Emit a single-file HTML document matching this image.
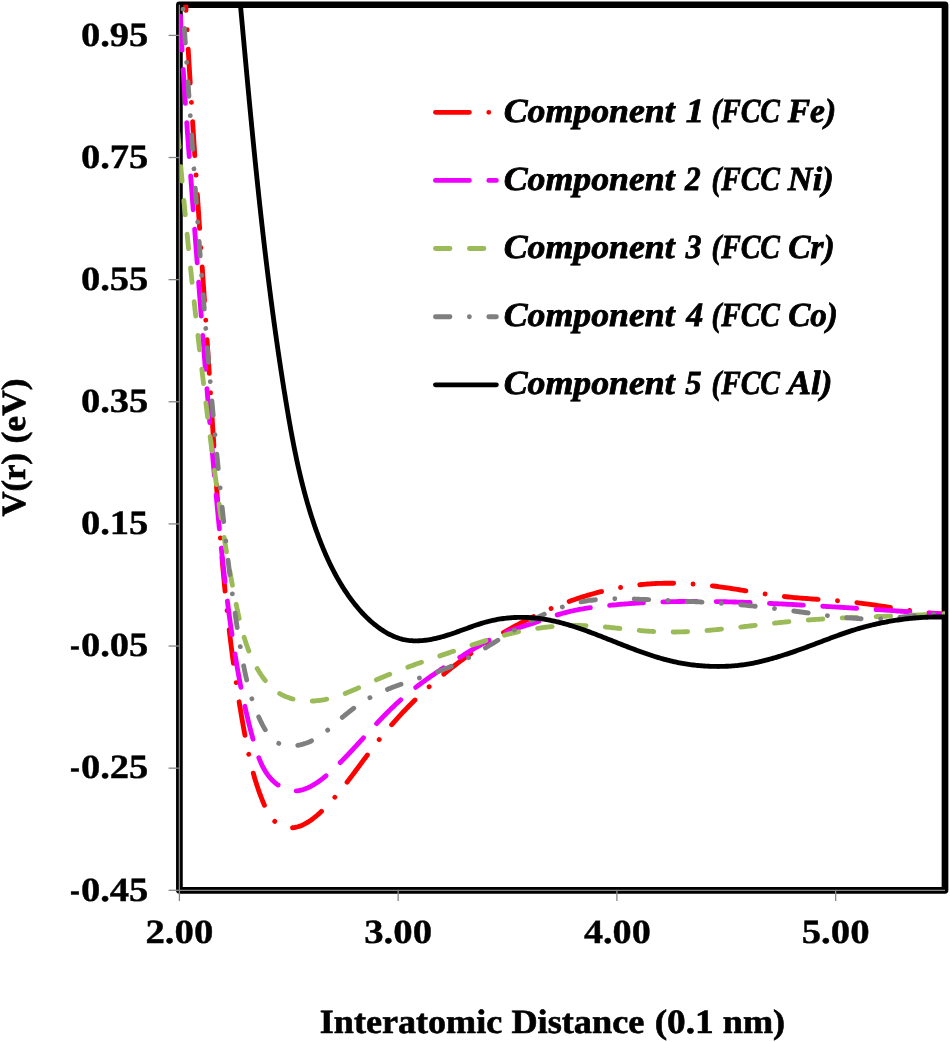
<!DOCTYPE html>
<html lang="en"><head><meta charset="utf-8"><title>V(r) vs Interatomic Distance</title>
<style>html,body{margin:0;padding:0;background:#fff}svg{display:block}</style></head>
<body>
<svg width="950" height="1042" viewBox="0 0 950 1042">
<rect x="0" y="0" width="950" height="1042" fill="#ffffff"/>
<defs><clipPath id="plot"><rect x="179.4" y="4.75" width="765.6" height="885.55"/></clipPath></defs>
<rect x="179.4" y="4.75" width="765.6" height="885.55" fill="none" stroke="#000" stroke-width="6.7" stroke-linejoin="round"/>
<g clip-path="url(#plot)" fill="none" stroke-linecap="round" stroke-linejoin="round">
<path d="M185.43,-0.01 L185.53,1.98 L185.64,3.97 L185.75,5.96 L185.86,7.96 L185.97,9.95 L186.08,11.94 L186.19,13.93 L186.30,15.92 L186.41,17.91 L186.52,19.90 L186.63,21.89 L186.74,23.88 L186.86,25.87 L186.97,27.86 L187.08,29.85 L187.19,31.84 L187.31,33.83 L187.42,35.82 L187.54,37.82 L187.65,39.81 L187.76,41.80 L187.88,43.79 L188.00,45.78 L188.11,47.77 L188.23,49.76 L188.34,51.75 L188.46,53.74 L188.58,55.73 L188.70,57.72 L188.81,59.71 L188.93,61.70 L189.05,63.69 L189.17,65.68 L189.29,67.67 L189.41,69.66 L189.53,71.65 L189.65,73.64 L189.77,75.63 L189.89,77.62 L190.01,79.61 L190.13,81.60 L190.25,83.59 L190.37,85.58 L190.49,87.57 L190.61,89.56 L190.74,91.55 L190.86,93.54 L190.98,95.53 L191.11,97.52 L191.23,99.51 L191.35,101.50 L191.48,103.49 L191.60,105.48 L191.72,107.47 L191.85,109.46 L191.97,111.45 L192.10,113.44 L192.22,115.43 L192.35,117.42 L192.47,119.41 L192.60,121.40 L192.73,123.39 L192.85,125.38 L192.98,127.37 L193.11,129.36 L193.23,131.35 L193.36,133.34 L193.49,135.33 L193.62,137.32 L193.74,139.30 L193.87,141.29 L194.00,143.28 L194.13,145.27 L194.26,147.26 L194.38,149.25 L194.51,151.24 L194.64,153.23 L194.77,155.22 L194.90,157.21 L195.03,159.20 L195.16,161.19 L195.29,163.18 L195.42,165.17 L195.55,167.16 L195.68,169.15 L195.81,171.14 L195.94,173.13 L196.07,175.12 L196.20,177.10 L196.33,179.09 L196.46,181.08 L196.59,183.07 L196.72,185.06 L196.86,187.05 L196.99,189.04 L197.12,191.03 L197.25,193.02 L197.38,195.01 L197.51,197.00 L197.65,198.99 L197.78,200.98 L197.91,202.97 L198.04,204.96 L198.18,206.94 L198.31,208.93 L198.44,210.92 L198.57,212.91 L198.71,214.90 L198.84,216.89 L198.97,218.88 L199.10,220.87 L199.24,222.86 L199.37,224.85 L199.50,226.84 L199.64,228.83 L199.77,230.82 L199.90,232.80 L200.04,234.79 L200.17,236.78 L200.30,238.77 L200.44,240.76 L200.57,242.75 L200.70,244.74 L200.84,246.73 L200.97,248.72 L201.10,250.71 L201.24,252.70 L201.37,254.69 L201.50,256.68 L201.64,258.66 L201.77,260.65 L201.91,262.64 L202.04,264.63 L202.17,266.62 L202.31,268.61 L202.44,270.60 L202.57,272.59 L202.71,274.58 L202.84,276.57 L202.97,278.56 L203.11,280.55 L203.24,282.54 L203.38,284.53 L203.51,286.51 L203.64,288.50 L203.78,290.49 L203.91,292.48 L204.04,294.47 L204.18,296.46 L204.31,298.45 L204.44,300.44 L204.58,302.43 L204.71,304.42 L204.84,306.41 L204.97,308.40 L205.11,310.39 L205.24,312.38 L205.37,314.36 L205.51,316.35 L205.64,318.34 L205.77,320.33 L205.90,322.32 L206.04,324.31 L206.17,326.30 L206.30,328.29 L206.43,330.28 L206.56,332.27 L206.70,334.26 L206.83,336.25 L206.96,338.24 L207.09,340.23 L207.22,342.22 L207.35,344.21 L207.49,346.19 L207.62,348.18 L207.75,350.17 L207.88,352.16 L208.01,354.15 L208.14,356.14 L208.27,358.13 L208.40,360.12 L208.53,362.11 L208.66,364.10 L208.79,366.09 L208.92,368.08 L209.05,370.07 L209.18,372.06 L209.31,374.05 L209.44,376.04 L209.57,378.03 L209.70,380.02 L209.83,382.01 L209.95,384.00 L210.08,385.99 L210.21,387.98 L210.34,389.97 L210.47,391.96 L210.59,393.95 L210.72,395.94 L210.85,397.93 L210.97,399.91 L211.10,401.90 L211.23,403.89 L211.35,405.88 L211.48,407.87 L211.61,409.86 L211.73,411.85 L211.86,413.84 L211.98,415.83 L212.11,417.82 L212.24,419.81 L212.36,421.80 L212.49,423.79 L212.61,425.78 L212.74,427.77 L212.87,429.76 L212.99,431.75 L213.12,433.74 L213.24,435.73 L213.37,437.72 L213.50,439.71 L213.62,441.70 L213.75,443.69 L213.88,445.68 L214.00,447.67 L214.13,449.66 L214.26,451.65 L214.39,453.64 L214.52,455.63 L214.65,457.62 L214.77,459.61 L214.90,461.60 L215.03,463.59 L215.16,465.58 L215.30,467.57 L215.43,469.56 L215.56,471.55 L215.69,473.54 L215.82,475.53 L215.96,477.51 L216.09,479.50 L216.22,481.49 L216.36,483.48 L216.49,485.47 L216.63,487.46 L216.77,489.45 L216.90,491.44 L217.04,493.43 L217.18,495.42 L217.32,497.41 L217.46,499.39 L217.60,501.38 L217.74,503.37 L217.89,505.36 L218.03,507.35 L218.17,509.34 L218.32,511.32 L218.46,513.31 L218.61,515.30 L218.76,517.29 L218.91,519.28 L219.06,521.27 L219.21,523.25 L219.36,525.24 L219.51,527.23 L219.66,529.22 L219.82,531.20 L219.97,533.19 L220.13,535.18 L220.29,537.17 L220.45,539.15 L220.61,541.14 L220.77,543.13 L220.93,545.11 L221.09,547.10 L221.26,549.09 L221.43,551.07 L221.59,553.06 L221.76,555.05 L221.93,557.03 L222.10,559.02 L222.27,561.00 L222.45,562.99 L222.62,564.98 L222.80,566.96 L222.98,568.95 L223.16,570.93 L223.34,572.92 L223.52,574.90 L223.70,576.89 L223.89,578.87 L224.07,580.86 L224.26,582.84 L224.45,584.83 L224.64,586.81 L224.84,588.80 L225.03,590.78 L225.23,592.77 L225.42,594.75 L225.62,596.73 L225.82,598.72 L226.03,600.70 L226.23,602.68 L226.44,604.67 L226.65,606.65 L226.86,608.63 L227.07,610.62 L227.28,612.60 L227.50,614.58 L227.71,616.56 L227.93,618.55 L228.15,620.53 L228.38,622.51 L228.60,624.49 L228.83,626.47 L229.06,628.45 L229.29,630.44 L229.52,632.42 L229.75,634.40 L229.99,636.38 L230.23,638.36 L230.47,640.34 L230.71,642.32 L230.96,644.30 L231.21,646.28 L231.45,648.26 L231.71,650.24 L231.96,652.22 L232.22,654.19 L232.47,656.17 L232.74,658.15 L233.00,660.13 L233.26,662.10 L233.53,664.08 L233.80,666.06 L234.07,668.03 L234.35,670.01 L234.62,671.98 L234.90,673.96 L235.18,675.93 L235.47,677.91 L235.76,679.88 L236.05,681.85 L236.34,683.83 L236.63,685.80 L236.93,687.77 L237.23,689.74 L237.53,691.71 L237.83,693.68 L238.14,695.65 L238.45,697.62 L238.76,699.59 L239.08,701.55 L239.40,703.52 L239.72,705.49 L240.04,707.45 L240.37,709.42 L240.70,711.38 L241.03,713.34 L241.36,715.31 L241.70,717.27 L242.04,719.23 L242.39,721.19 L242.73,723.15 L243.08,725.11 L243.43,727.07 L243.79,729.03 L244.15,730.98 L244.51,732.94 L244.87,734.89 L245.24,736.85 L245.61,738.80 L245.98,740.76 L246.36,742.71 L246.75,744.66 L247.14,746.61 L247.53,748.56 L247.93,750.50 L248.34,752.45 L248.76,754.39 L249.18,756.33 L249.61,758.27 L250.06,760.21 L250.51,762.15 L250.97,764.08 L251.44,766.02 L251.92,767.95 L252.42,769.87 L252.93,771.80 L253.45,773.72 L253.98,775.64 L254.53,777.56 L255.09,779.48 L255.67,781.39 L256.27,783.30 L256.87,785.21 L257.50,787.11 L258.14,789.01 L258.80,790.91 L259.48,792.81 L260.18,794.70 L260.90,796.58 L261.64,798.47 L262.39,800.35 L263.17,802.23 L263.97,804.10 L264.79,805.97 L265.64,807.83 L266.52,809.67 L267.45,811.48 L268.43,813.25 L269.47,814.97 L270.59,816.63 L271.78,818.22 L273.07,819.72 L274.45,821.13 L275.94,822.43 L277.52,823.62 L279.19,824.69 L280.94,825.61 L282.74,826.40 L284.59,827.02 L286.47,827.48 L288.37,827.76 L290.28,827.87 L292.20,827.81 L294.10,827.60 L295.99,827.25 L297.87,826.76 L299.74,826.16 L301.59,825.44 L303.42,824.61 L305.23,823.69 L307.02,822.68 L308.78,821.59 L310.52,820.43 L312.23,819.20 L313.92,817.93 L315.57,816.60 L317.19,815.25 L318.77,813.86 L320.32,812.46 L321.83,811.05 L323.30,809.64 L324.74,808.22 L326.14,806.80 L327.51,805.38 L328.85,803.95 L330.17,802.52 L331.48,801.08 L332.76,799.63 L334.04,798.17 L335.30,796.70 L336.56,795.21 L337.81,793.72 L339.05,792.22 L340.29,790.70 L341.52,789.18 L342.75,787.64 L343.97,786.10 L345.19,784.55 L346.40,782.99 L347.61,781.43 L348.81,779.86 L350.02,778.28 L351.22,776.69 L352.42,775.11 L353.61,773.51 L354.81,771.92 L356.00,770.32 L357.19,768.71 L358.39,767.11 L359.58,765.50 L360.77,763.89 L361.97,762.28 L363.16,760.67 L364.36,759.06 L365.56,757.44 L366.76,755.83 L367.96,754.23 L369.17,752.62 L370.38,751.02 L371.60,749.41 L372.81,747.82 L374.04,746.22 L375.27,744.63 L376.50,743.05 L377.74,741.47 L378.99,739.90 L380.24,738.33 L381.50,736.77 L382.77,735.22 L384.04,733.67 L385.32,732.13 L386.61,730.60 L387.90,729.07 L389.20,727.55 L390.50,726.04 L391.82,724.53 L393.13,723.03 L394.46,721.53 L395.79,720.05 L397.13,718.57 L398.47,717.09 L399.82,715.62 L401.18,714.16 L402.54,712.71 L403.91,711.26 L405.28,709.82 L406.67,708.38 L408.05,706.95 L409.45,705.53 L410.85,704.11 L412.25,702.71 L413.66,701.30 L415.08,699.91 L416.51,698.52 L417.94,697.14 L419.37,695.76 L420.82,694.39 L422.26,693.03 L423.72,691.68 L425.18,690.33 L426.64,688.99 L428.12,687.65 L429.59,686.32 L431.08,685.00 L432.57,683.69 L434.06,682.38 L435.56,681.08 L437.07,679.78 L438.58,678.49 L440.10,677.21 L441.62,675.94 L443.15,674.67 L444.69,673.41 L446.23,672.16 L447.77,670.91 L449.33,669.67 L450.88,668.43 L452.45,667.21 L454.01,665.99 L455.59,664.77 L457.17,663.57 L458.75,662.37 L460.34,661.18 L461.94,659.99 L463.54,658.81 L465.14,657.64 L466.76,656.47 L468.37,655.32 L470.00,654.16 L471.62,653.02 L473.26,651.88 L474.89,650.75 L476.54,649.63 L478.19,648.51 L479.84,647.40 L481.50,646.30 L483.16,645.20 L484.83,644.11 L486.51,643.03 L488.18,641.95 L489.87,640.89 L491.56,639.82 L493.25,638.77 L494.95,637.72 L496.65,636.68 L498.36,635.65 L500.08,634.62 L501.80,633.60 L503.52,632.59 L505.25,631.59 L506.98,630.59 L508.72,629.60 L510.46,628.61 L512.21,627.64 L513.96,626.67 L515.72,625.71 L517.48,624.76 L519.25,623.81 L521.02,622.87 L522.79,621.95 L524.57,621.03 L526.35,620.11 L528.14,619.21 L529.93,618.32 L531.73,617.43 L533.53,616.55 L535.33,615.68 L537.14,614.82 L538.96,613.97 L540.77,613.13 L542.59,612.30 L544.42,611.48 L546.25,610.66 L548.08,609.86 L549.92,609.07 L551.76,608.28 L553.60,607.51 L555.45,606.75 L557.30,605.99 L559.16,605.25 L561.02,604.52 L562.88,603.79 L564.75,603.08 L566.62,602.38 L568.49,601.69 L570.37,601.01 L572.25,600.34 L574.13,599.69 L576.02,599.04 L577.91,598.40 L579.80,597.78 L581.70,597.17 L583.60,596.57 L585.50,595.98 L587.41,595.41 L589.32,594.84 L591.23,594.29 L593.15,593.75 L595.07,593.22 L596.99,592.71 L598.91,592.20 L600.84,591.71 L602.77,591.24 L604.70,590.77 L606.64,590.32 L608.57,589.88 L610.52,589.46 L612.46,589.04 L614.40,588.65 L616.35,588.26 L618.30,587.89 L620.26,587.53 L622.21,587.19 L624.17,586.86 L626.13,586.54 L628.10,586.24 L630.06,585.95 L632.03,585.68 L634.00,585.42 L635.97,585.18 L637.94,584.95 L639.92,584.73 L641.90,584.53 L643.88,584.34 L645.86,584.17 L647.84,584.02 L649.83,583.87 L651.81,583.75 L653.80,583.63 L655.79,583.53 L657.78,583.44 L659.77,583.37 L661.77,583.31 L663.76,583.26 L665.75,583.23 L667.75,583.21 L669.74,583.20 L671.74,583.21 L673.73,583.22 L675.73,583.25 L677.73,583.30 L679.72,583.35 L681.72,583.42 L683.72,583.50 L685.71,583.59 L687.71,583.69 L689.70,583.80 L691.70,583.93 L693.69,584.06 L695.69,584.21 L697.68,584.37 L699.67,584.53 L701.66,584.71 L703.65,584.90 L705.64,585.10 L707.62,585.32 L709.61,585.54 L711.59,585.77 L713.57,586.01 L715.55,586.26 L717.53,586.52 L719.51,586.78 L721.48,587.06 L723.46,587.34 L725.43,587.63 L727.40,587.92 L729.37,588.22 L731.34,588.52 L733.31,588.83 L735.28,589.14 L737.25,589.46 L739.22,589.77 L741.19,590.09 L743.15,590.41 L745.12,590.74 L747.08,591.06 L749.05,591.38 L751.02,591.70 L752.98,592.03 L754.95,592.34 L756.92,592.66 L758.88,592.98 L760.85,593.29 L762.82,593.59 L764.79,593.89 L766.76,594.19 L768.72,594.48 L770.70,594.77 L772.67,595.05 L774.64,595.32 L776.61,595.58 L778.59,595.84 L780.56,596.09 L782.54,596.32 L784.52,596.55 L786.50,596.77 L788.48,596.98 L790.46,597.18 L792.45,597.37 L794.43,597.56 L796.42,597.73 L798.40,597.91 L800.39,598.07 L802.38,598.23 L804.37,598.39 L806.36,598.54 L808.35,598.69 L810.34,598.83 L812.33,598.98 L814.32,599.12 L816.31,599.25 L818.31,599.39 L820.30,599.53 L822.29,599.67 L824.28,599.81 L826.27,599.95 L828.27,600.09 L830.26,600.23 L832.25,600.38 L834.24,600.53 L836.23,600.68 L838.22,600.84 L840.21,601.00 L842.19,601.17 L844.18,601.35 L846.17,601.53 L848.15,601.72 L850.14,601.92 L852.12,602.12 L854.10,602.34 L856.08,602.56 L858.06,602.79 L860.04,603.04 L862.02,603.29 L863.99,603.55 L865.97,603.81 L867.94,604.09 L869.92,604.37 L871.89,604.65 L873.86,604.94 L875.83,605.24 L877.80,605.54 L879.77,605.84 L881.74,606.14 L883.71,606.45 L885.68,606.76 L887.65,607.07 L889.62,607.38 L891.58,607.70 L893.55,608.01 L895.52,608.32 L897.49,608.62 L899.46,608.93 L901.43,609.23 L903.40,609.53 L905.37,609.83 L907.34,610.12 L909.31,610.40 L911.28,610.68 L913.26,610.96 L915.23,611.23 L917.20,611.49 L919.18,611.74 L921.16,611.98 L923.14,612.22 L925.12,612.44 L927.10,612.65 L929.08,612.86 L931.06,613.05 L933.05,613.23 L935.03,613.40 L937.02,613.55 L939.01,613.69 L941.00,613.82 L943.00,613.93 L944.99,614.03" stroke="#FF0000" stroke-width="4.85" stroke-dasharray="33.95 19.40 0.01 19.40" stroke-dashoffset="23.54"/>
<path d="M179.83,0.02 L179.90,1.93 L179.97,3.83 L180.03,5.73 L180.10,7.64 L180.17,9.54 L180.25,11.45 L180.32,13.35 L180.40,15.26 L180.48,17.16 L180.56,19.06 L180.64,20.97 L180.72,22.87 L180.81,24.78 L180.89,26.68 L180.98,28.59 L181.07,30.49 L181.16,32.40 L181.25,34.30 L181.34,36.21 L181.44,38.11 L181.53,40.02 L181.63,41.92 L181.73,43.83 L181.83,45.73 L181.93,47.63 L182.03,49.54 L182.14,51.44 L182.24,53.35 L182.35,55.25 L182.46,57.16 L182.57,59.06 L182.68,60.97 L182.79,62.87 L182.90,64.78 L183.01,66.68 L183.13,68.59 L183.24,70.49 L183.36,72.40 L183.48,74.30 L183.60,76.21 L183.72,78.11 L183.84,80.02 L183.96,81.92 L184.08,83.83 L184.20,85.73 L184.33,87.64 L184.45,89.54 L184.58,91.45 L184.71,93.35 L184.83,95.26 L184.96,97.16 L185.09,99.07 L185.22,100.97 L185.35,102.88 L185.48,104.78 L185.61,106.69 L185.75,108.59 L185.88,110.50 L186.01,112.40 L186.15,114.31 L186.28,116.21 L186.42,118.12 L186.55,120.02 L186.69,121.93 L186.83,123.83 L186.96,125.74 L187.10,127.64 L187.24,129.55 L187.38,131.45 L187.52,133.36 L187.66,135.26 L187.80,137.17 L187.94,139.07 L188.08,140.97 L188.22,142.88 L188.36,144.78 L188.50,146.69 L188.64,148.59 L188.79,150.50 L188.93,152.40 L189.07,154.30 L189.21,156.21 L189.35,158.11 L189.50,160.02 L189.64,161.92 L189.78,163.83 L189.93,165.73 L190.07,167.63 L190.21,169.54 L190.35,171.44 L190.50,173.34 L190.64,175.25 L190.78,177.15 L190.92,179.06 L191.07,180.96 L191.21,182.86 L191.35,184.77 L191.49,186.67 L191.64,188.57 L191.78,190.48 L191.92,192.38 L192.06,194.28 L192.20,196.19 L192.35,198.09 L192.49,199.99 L192.63,201.90 L192.77,203.80 L192.91,205.70 L193.06,207.60 L193.20,209.51 L193.34,211.41 L193.48,213.31 L193.62,215.22 L193.77,217.12 L193.91,219.02 L194.05,220.92 L194.19,222.83 L194.33,224.73 L194.48,226.63 L194.62,228.53 L194.76,230.44 L194.90,232.34 L195.05,234.24 L195.19,236.14 L195.33,238.05 L195.47,239.95 L195.61,241.85 L195.76,243.75 L195.90,245.66 L196.04,247.56 L196.18,249.46 L196.33,251.36 L196.47,253.26 L196.61,255.17 L196.75,257.07 L196.90,258.97 L197.04,260.87 L197.18,262.77 L197.33,264.68 L197.47,266.58 L197.61,268.48 L197.76,270.38 L197.90,272.28 L198.04,274.19 L198.19,276.09 L198.33,277.99 L198.47,279.89 L198.62,281.79 L198.76,283.69 L198.91,285.60 L199.05,287.50 L199.19,289.40 L199.34,291.30 L199.48,293.20 L199.63,295.10 L199.77,297.01 L199.92,298.91 L200.06,300.81 L200.21,302.71 L200.35,304.61 L200.50,306.51 L200.64,308.42 L200.79,310.32 L200.94,312.22 L201.08,314.12 L201.23,316.02 L201.38,317.92 L201.52,319.82 L201.67,321.73 L201.82,323.63 L201.96,325.53 L202.11,327.43 L202.26,329.33 L202.41,331.23 L202.55,333.14 L202.70,335.04 L202.85,336.94 L203.00,338.84 L203.15,340.74 L203.30,342.64 L203.45,344.54 L203.60,346.45 L203.74,348.35 L203.89,350.25 L204.04,352.15 L204.19,354.05 L204.35,355.95 L204.50,357.85 L204.65,359.76 L204.80,361.66 L204.95,363.56 L205.10,365.46 L205.25,367.36 L205.40,369.26 L205.56,371.17 L205.71,373.07 L205.86,374.97 L206.02,376.87 L206.17,378.77 L206.32,380.67 L206.48,382.57 L206.63,384.48 L206.79,386.38 L206.94,388.28 L207.10,390.18 L207.25,392.08 L207.41,393.98 L207.56,395.89 L207.72,397.79 L207.88,399.69 L208.03,401.59 L208.19,403.49 L208.35,405.40 L208.50,407.30 L208.66,409.20 L208.82,411.10 L208.98,413.00 L209.14,414.91 L209.30,416.81 L209.46,418.71 L209.62,420.61 L209.78,422.51 L209.94,424.42 L210.10,426.32 L210.26,428.22 L210.42,430.12 L210.59,432.02 L210.75,433.93 L210.91,435.83 L211.07,437.73 L211.24,439.63 L211.40,441.54 L211.57,443.44 L211.73,445.34 L211.90,447.24 L212.06,449.15 L212.23,451.05 L212.39,452.95 L212.56,454.85 L212.73,456.76 L212.89,458.66 L213.06,460.56 L213.23,462.46 L213.40,464.37 L213.57,466.27 L213.74,468.17 L213.91,470.08 L214.08,471.98 L214.25,473.88 L214.42,475.78 L214.59,477.69 L214.76,479.59 L214.93,481.49 L215.11,483.40 L215.28,485.30 L215.45,487.20 L215.63,489.11 L215.80,491.01 L215.98,492.91 L216.15,494.82 L216.33,496.72 L216.50,498.62 L216.68,500.53 L216.86,502.43 L217.04,504.34 L217.21,506.24 L217.39,508.14 L217.57,510.05 L217.75,511.95 L217.93,513.85 L218.11,515.76 L218.30,517.66 L218.48,519.57 L218.66,521.47 L218.85,523.37 L219.03,525.28 L219.22,527.18 L219.40,529.08 L219.59,530.99 L219.78,532.89 L219.97,534.79 L220.16,536.69 L220.35,538.60 L220.54,540.50 L220.74,542.40 L220.93,544.30 L221.13,546.20 L221.32,548.11 L221.52,550.01 L221.72,551.91 L221.92,553.81 L222.12,555.71 L222.33,557.61 L222.53,559.51 L222.73,561.41 L222.94,563.31 L223.15,565.21 L223.36,567.11 L223.57,569.01 L223.78,570.90 L224.00,572.80 L224.21,574.70 L224.43,576.60 L224.65,578.49 L224.87,580.39 L225.09,582.29 L225.31,584.18 L225.53,586.08 L225.76,587.97 L225.99,589.86 L226.22,591.76 L226.45,593.65 L226.68,595.54 L226.92,597.44 L227.16,599.33 L227.40,601.22 L227.64,603.11 L227.88,605.00 L228.12,606.89 L228.37,608.78 L228.62,610.67 L228.87,612.55 L229.12,614.44 L229.38,616.33 L229.64,618.21 L229.89,620.10 L230.16,621.98 L230.42,623.87 L230.69,625.75 L230.95,627.63 L231.22,629.51 L231.50,631.39 L231.77,633.28 L232.05,635.15 L232.33,637.03 L232.61,638.91 L232.90,640.79 L233.18,642.67 L233.47,644.54 L233.76,646.42 L234.06,648.29 L234.36,650.17 L234.66,652.04 L234.96,653.91 L235.26,655.78 L235.57,657.65 L235.88,659.52 L236.20,661.39 L236.51,663.26 L236.83,665.13 L237.16,666.99 L237.48,668.86 L237.81,670.73 L238.14,672.59 L238.48,674.46 L238.82,676.32 L239.17,678.19 L239.51,680.05 L239.87,681.92 L240.22,683.79 L240.58,685.65 L240.95,687.52 L241.32,689.38 L241.69,691.25 L242.07,693.11 L242.45,694.98 L242.84,696.84 L243.23,698.71 L243.63,700.58 L244.03,702.45 L244.43,704.31 L244.84,706.18 L245.26,708.05 L245.68,709.92 L246.11,711.79 L246.54,713.67 L246.98,715.54 L247.43,717.41 L247.88,719.29 L248.33,721.16 L248.79,723.04 L249.26,724.92 L249.73,726.80 L250.21,728.68 L250.70,730.56 L251.19,732.44 L251.69,734.32 L252.20,736.21 L252.71,738.10 L253.23,739.98 L253.75,741.87 L254.29,743.76 L254.83,745.65 L255.39,747.53 L255.97,749.41 L256.56,751.27 L257.17,753.13 L257.81,754.97 L258.47,756.79 L259.16,758.60 L259.87,760.38 L260.62,762.15 L261.40,763.89 L262.22,765.60 L263.08,767.28 L263.98,768.93 L264.92,770.55 L265.90,772.13 L266.93,773.68 L268.02,775.18 L269.15,776.64 L270.34,778.06 L271.58,779.43 L272.89,780.76 L274.25,782.03 L275.68,783.24 L277.17,784.41 L278.73,785.51 L280.36,786.55 L282.05,787.52 L283.79,788.39 L285.57,789.15 L287.39,789.79 L289.23,790.29 L291.09,790.64 L292.96,790.84 L294.84,790.89 L296.71,790.80 L298.57,790.59 L300.42,790.26 L302.26,789.82 L304.08,789.27 L305.89,788.62 L307.68,787.89 L309.45,787.06 L311.21,786.17 L312.95,785.20 L314.66,784.17 L316.35,783.08 L318.02,781.95 L319.67,780.78 L321.28,779.57 L322.87,778.33 L324.43,777.08 L325.96,775.81 L327.46,774.54 L328.93,773.26 L330.38,771.97 L331.80,770.68 L333.20,769.38 L334.59,768.08 L335.95,766.77 L337.31,765.45 L338.65,764.12 L339.99,762.79 L341.32,761.45 L342.65,760.10 L343.97,758.74 L345.29,757.38 L346.61,756.01 L347.92,754.64 L349.22,753.26 L350.53,751.88 L351.83,750.49 L353.12,749.10 L354.42,747.70 L355.71,746.30 L357.01,744.90 L358.30,743.50 L359.59,742.09 L360.88,740.68 L362.17,739.27 L363.46,737.87 L364.75,736.46 L366.04,735.05 L367.33,733.64 L368.62,732.23 L369.91,730.82 L371.21,729.42 L372.51,728.01 L373.81,726.61 L375.11,725.21 L376.42,723.82 L377.73,722.43 L379.05,721.04 L380.36,719.66 L381.69,718.28 L383.01,716.91 L384.35,715.54 L385.69,714.18 L387.03,712.82 L388.38,711.48 L389.74,710.13 L391.10,708.80 L392.47,707.48 L393.85,706.16 L395.24,704.85 L396.63,703.56 L398.03,702.27 L399.44,700.99 L400.86,699.72 L402.29,698.46 L403.73,697.22 L405.18,695.98 L406.63,694.76 L408.10,693.54 L409.57,692.33 L411.05,691.14 L412.54,689.95 L414.03,688.77 L415.54,687.60 L417.05,686.44 L418.56,685.29 L420.09,684.14 L421.62,683.01 L423.15,681.88 L424.70,680.75 L426.24,679.64 L427.80,678.53 L429.36,677.43 L430.92,676.34 L432.49,675.25 L434.07,674.16 L435.65,673.09 L437.23,672.02 L438.82,670.95 L440.41,669.89 L442.01,668.83 L443.61,667.78 L445.21,666.73 L446.81,665.69 L448.42,664.65 L450.03,663.62 L451.65,662.58 L453.26,661.55 L454.88,660.53 L456.50,659.50 L458.12,658.48 L459.74,657.46 L461.37,656.45 L462.99,655.43 L464.62,654.42 L466.25,653.42 L467.88,652.41 L469.51,651.42 L471.15,650.42 L472.79,649.44 L474.43,648.46 L476.08,647.49 L477.73,646.53 L479.38,645.57 L481.04,644.63 L482.71,643.70 L484.38,642.78 L486.05,641.87 L487.73,640.97 L489.42,640.09 L491.11,639.22 L492.81,638.36 L494.51,637.52 L496.22,636.70 L497.94,635.89 L499.67,635.10 L501.40,634.33 L503.15,633.58 L504.90,632.84 L506.66,632.13 L508.43,631.43 L510.20,630.76 L511.99,630.11 L513.78,629.47 L515.59,628.85 L517.39,628.24 L519.20,627.64 L521.02,627.05 L522.84,626.46 L524.66,625.88 L526.48,625.31 L528.30,624.73 L530.12,624.15 L531.94,623.57 L533.76,622.98 L535.58,622.39 L537.39,621.78 L539.20,621.17 L541.00,620.54 L542.80,619.90 L544.60,619.25 L546.39,618.61 L548.18,617.96 L549.98,617.32 L551.78,616.69 L553.58,616.08 L555.38,615.48 L557.20,614.90 L559.01,614.34 L560.84,613.80 L562.67,613.28 L564.50,612.79 L566.34,612.31 L568.19,611.85 L570.04,611.41 L571.89,610.99 L573.75,610.58 L575.62,610.20 L577.49,609.82 L579.36,609.47 L581.24,609.12 L583.12,608.80 L585.00,608.48 L586.88,608.18 L588.77,607.89 L590.66,607.61 L592.56,607.34 L594.45,607.09 L596.35,606.84 L598.25,606.60 L600.15,606.38 L602.05,606.15 L603.95,605.94 L605.85,605.74 L607.76,605.54 L609.66,605.34 L611.56,605.15 L613.47,604.97 L615.37,604.79 L617.27,604.62 L619.18,604.45 L621.08,604.28 L622.99,604.13 L624.89,603.97 L626.79,603.83 L628.70,603.68 L630.60,603.54 L632.51,603.41 L634.41,603.28 L636.32,603.16 L638.22,603.04 L640.13,602.92 L642.03,602.81 L643.94,602.71 L645.84,602.61 L647.75,602.51 L649.65,602.42 L651.56,602.33 L653.47,602.25 L655.37,602.17 L657.28,602.09 L659.18,602.02 L661.09,601.95 L662.99,601.89 L664.90,601.83 L666.81,601.78 L668.71,601.73 L670.62,601.68 L672.53,601.64 L674.43,601.60 L676.34,601.56 L678.24,601.53 L680.15,601.50 L682.06,601.47 L683.96,601.45 L685.87,601.44 L687.78,601.42 L689.68,601.41 L691.59,601.40 L693.50,601.40 L695.40,601.40 L697.31,601.40 L699.22,601.40 L701.13,601.41 L703.03,601.42 L704.94,601.44 L706.85,601.45 L708.75,601.47 L710.66,601.50 L712.57,601.52 L714.48,601.55 L716.38,601.58 L718.29,601.62 L720.20,601.66 L722.10,601.69 L724.01,601.74 L725.92,601.78 L727.83,601.83 L729.73,601.88 L731.64,601.93 L733.55,601.98 L735.45,602.04 L737.36,602.10 L739.27,602.16 L741.18,602.22 L743.08,602.29 L744.99,602.35 L746.90,602.42 L748.81,602.49 L750.71,602.56 L752.62,602.64 L754.53,602.71 L756.43,602.79 L758.34,602.87 L760.25,602.95 L762.16,603.04 L764.06,603.12 L765.97,603.21 L767.88,603.29 L769.78,603.38 L771.69,603.47 L773.60,603.56 L775.50,603.66 L777.41,603.75 L779.32,603.85 L781.22,603.94 L783.13,604.04 L785.04,604.14 L786.94,604.24 L788.85,604.34 L790.76,604.44 L792.66,604.54 L794.57,604.64 L796.48,604.75 L798.38,604.85 L800.29,604.96 L802.20,605.06 L804.10,605.17 L806.01,605.27 L807.91,605.38 L809.82,605.49 L811.73,605.60 L813.63,605.70 L815.54,605.81 L817.44,605.92 L819.35,606.03 L821.25,606.14 L823.16,606.26 L825.06,606.37 L826.97,606.48 L828.88,606.59 L830.78,606.70 L832.69,606.82 L834.59,606.93 L836.50,607.05 L838.40,607.16 L840.31,607.28 L842.21,607.39 L844.11,607.51 L846.02,607.63 L847.92,607.74 L849.83,607.86 L851.73,607.98 L853.64,608.10 L855.54,608.22 L857.45,608.34 L859.35,608.46 L861.25,608.58 L863.16,608.70 L865.06,608.82 L866.97,608.95 L868.87,609.07 L870.77,609.19 L872.68,609.31 L874.58,609.44 L876.49,609.56 L878.39,609.69 L880.29,609.81 L882.20,609.94 L884.10,610.07 L886.00,610.19 L887.91,610.32 L889.81,610.45 L891.71,610.58 L893.62,610.70 L895.52,610.83 L897.42,610.96 L899.33,611.09 L901.23,611.22 L903.13,611.35 L905.03,611.49 L906.94,611.62 L908.84,611.75 L910.74,611.88 L912.65,612.02 L914.55,612.15 L916.45,612.28 L918.35,612.42 L920.26,612.55 L922.16,612.69 L924.06,612.82 L925.96,612.96 L927.86,613.10 L929.77,613.23 L931.67,613.37 L933.57,613.51 L935.47,613.65 L937.38,613.79 L939.28,613.92 L941.18,614.06 L943.08,614.20 L944.98,614.34" stroke="#EE00FF" stroke-width="4.85" stroke-dasharray="33.95 19.40" stroke-dashoffset="37.21"/>
<path d="M175.25,100.05 L175.37,101.66 L175.50,103.26 L175.62,104.87 L175.75,106.48 L175.88,108.08 L176.00,109.69 L176.13,111.30 L176.26,112.90 L176.39,114.51 L176.52,116.12 L176.65,117.72 L176.78,119.33 L176.91,120.94 L177.04,122.54 L177.17,124.15 L177.30,125.76 L177.43,127.36 L177.56,128.97 L177.70,130.58 L177.83,132.18 L177.96,133.79 L178.10,135.40 L178.23,137.01 L178.37,138.61 L178.50,140.22 L178.64,141.83 L178.77,143.43 L178.91,145.04 L179.05,146.65 L179.19,148.26 L179.32,149.86 L179.46,151.47 L179.60,153.08 L179.74,154.69 L179.88,156.29 L180.02,157.90 L180.16,159.51 L180.30,161.11 L180.44,162.72 L180.58,164.33 L180.73,165.94 L180.87,167.54 L181.01,169.15 L181.15,170.76 L181.30,172.37 L181.44,173.97 L181.59,175.58 L181.73,177.19 L181.88,178.80 L182.02,180.40 L182.17,182.01 L182.32,183.62 L182.46,185.23 L182.61,186.84 L182.76,188.44 L182.91,190.05 L183.05,191.66 L183.20,193.27 L183.35,194.87 L183.50,196.48 L183.65,198.09 L183.80,199.70 L183.95,201.30 L184.11,202.91 L184.26,204.52 L184.41,206.13 L184.56,207.73 L184.72,209.34 L184.87,210.95 L185.02,212.56 L185.18,214.16 L185.33,215.77 L185.49,217.38 L185.64,218.99 L185.80,220.59 L185.95,222.20 L186.11,223.81 L186.27,225.42 L186.42,227.02 L186.58,228.63 L186.74,230.24 L186.90,231.85 L187.06,233.45 L187.22,235.06 L187.38,236.67 L187.54,238.28 L187.70,239.88 L187.86,241.49 L188.02,243.10 L188.18,244.70 L188.34,246.31 L188.51,247.92 L188.67,249.53 L188.83,251.13 L188.99,252.74 L189.16,254.35 L189.32,255.95 L189.49,257.56 L189.65,259.17 L189.82,260.77 L189.98,262.38 L190.15,263.99 L190.32,265.60 L190.48,267.20 L190.65,268.81 L190.82,270.42 L190.99,272.02 L191.16,273.63 L191.32,275.24 L191.49,276.84 L191.66,278.45 L191.83,280.05 L192.00,281.66 L192.17,283.27 L192.34,284.87 L192.52,286.48 L192.69,288.09 L192.86,289.69 L193.03,291.30 L193.21,292.91 L193.38,294.51 L193.55,296.12 L193.73,297.72 L193.90,299.33 L194.08,300.94 L194.25,302.54 L194.43,304.15 L194.60,305.75 L194.78,307.36 L194.95,308.96 L195.13,310.57 L195.31,312.17 L195.49,313.78 L195.66,315.39 L195.84,316.99 L196.02,318.60 L196.20,320.20 L196.38,321.81 L196.56,323.41 L196.74,325.02 L196.92,326.62 L197.10,328.23 L197.28,329.83 L197.46,331.44 L197.64,333.04 L197.83,334.65 L198.01,336.25 L198.19,337.86 L198.38,339.46 L198.56,341.06 L198.74,342.67 L198.93,344.27 L199.11,345.88 L199.30,347.48 L199.48,349.08 L199.67,350.69 L199.85,352.29 L200.04,353.90 L200.23,355.50 L200.41,357.10 L200.60,358.71 L200.79,360.31 L200.98,361.91 L201.17,363.52 L201.36,365.12 L201.54,366.72 L201.73,368.33 L201.92,369.93 L202.11,371.53 L202.30,373.14 L202.50,374.74 L202.69,376.34 L202.88,377.94 L203.07,379.55 L203.26,381.15 L203.45,382.75 L203.65,384.35 L203.84,385.96 L204.03,387.56 L204.23,389.16 L204.42,390.76 L204.62,392.36 L204.81,393.96 L205.01,395.57 L205.20,397.17 L205.40,398.77 L205.59,400.37 L205.79,401.97 L205.99,403.57 L206.18,405.17 L206.38,406.77 L206.58,408.38 L206.78,409.98 L206.98,411.58 L207.17,413.18 L207.37,414.78 L207.57,416.38 L207.77,417.98 L207.97,419.58 L208.17,421.18 L208.37,422.78 L208.57,424.38 L208.78,425.98 L208.98,427.58 L209.18,429.18 L209.38,430.78 L209.58,432.37 L209.79,433.97 L209.99,435.57 L210.19,437.17 L210.40,438.77 L210.60,440.37 L210.81,441.97 L211.01,443.57 L211.22,445.16 L211.42,446.76 L211.63,448.36 L211.83,449.96 L212.04,451.56 L212.25,453.15 L212.45,454.75 L212.66,456.35 L212.87,457.95 L213.08,459.54 L213.29,461.14 L213.49,462.74 L213.70,464.33 L213.91,465.93 L214.12,467.53 L214.34,469.12 L214.55,470.72 L214.76,472.32 L214.97,473.91 L215.19,475.51 L215.40,477.11 L215.61,478.70 L215.83,480.30 L216.04,481.89 L216.26,483.49 L216.48,485.08 L216.70,486.68 L216.92,488.28 L217.13,489.87 L217.36,491.47 L217.58,493.06 L217.80,494.66 L218.02,496.25 L218.25,497.85 L218.47,499.44 L218.70,501.04 L218.92,502.63 L219.15,504.23 L219.38,505.82 L219.61,507.42 L219.84,509.01 L220.07,510.61 L220.30,512.20 L220.53,513.79 L220.77,515.39 L221.01,516.98 L221.24,518.58 L221.48,520.17 L221.72,521.77 L221.96,523.36 L222.20,524.96 L222.44,526.55 L222.69,528.14 L222.93,529.74 L223.18,531.33 L223.43,532.93 L223.68,534.52 L223.93,536.12 L224.18,537.71 L224.43,539.30 L224.69,540.90 L224.94,542.49 L225.20,544.09 L225.46,545.68 L225.72,547.27 L225.98,548.87 L226.25,550.46 L226.51,552.06 L226.78,553.65 L227.05,555.24 L227.32,556.84 L227.59,558.43 L227.86,560.03 L228.14,561.62 L228.41,563.22 L228.69,564.81 L228.97,566.40 L229.25,568.00 L229.53,569.59 L229.82,571.19 L230.11,572.78 L230.39,574.38 L230.69,575.97 L230.98,577.56 L231.27,579.16 L231.57,580.75 L231.87,582.35 L232.17,583.94 L232.47,585.54 L232.77,587.13 L233.08,588.73 L233.39,590.32 L233.69,591.92 L234.01,593.51 L234.32,595.11 L234.64,596.70 L234.95,598.30 L235.28,599.89 L235.60,601.49 L235.92,603.08 L236.25,604.68 L236.58,606.27 L236.91,607.87 L237.24,609.46 L237.58,611.06 L237.93,612.65 L238.27,614.24 L238.62,615.83 L238.98,617.42 L239.34,619.01 L239.71,620.60 L240.09,622.18 L240.47,623.76 L240.86,625.34 L241.26,626.91 L241.67,628.49 L242.08,630.06 L242.51,631.62 L242.94,633.18 L243.39,634.74 L243.84,636.30 L244.31,637.85 L244.79,639.39 L245.28,640.93 L245.78,642.47 L246.29,644.00 L246.82,645.52 L247.37,647.04 L247.92,648.55 L248.49,650.06 L249.08,651.56 L249.68,653.05 L250.30,654.54 L250.93,656.02 L251.58,657.49 L252.25,658.96 L252.94,660.42 L253.64,661.86 L254.36,663.31 L255.10,664.74 L255.86,666.16 L256.65,667.58 L257.45,668.98 L258.27,670.38 L259.11,671.77 L259.98,673.14 L260.86,674.50 L261.77,675.84 L262.71,677.16 L263.66,678.46 L264.64,679.75 L265.65,681.00 L266.68,682.23 L267.73,683.44 L268.82,684.61 L269.92,685.76 L271.06,686.87 L272.22,687.94 L273.41,688.98 L274.63,689.98 L275.88,690.95 L277.15,691.87 L278.46,692.74 L279.80,693.57 L281.16,694.36 L282.56,695.09 L283.98,695.79 L285.43,696.43 L286.90,697.04 L288.39,697.59 L289.90,698.11 L291.43,698.58 L292.98,699.01 L294.54,699.40 L296.11,699.74 L297.69,700.05 L299.29,700.31 L300.89,700.54 L302.50,700.72 L304.11,700.87 L305.72,700.98 L307.34,701.05 L308.95,701.08 L310.57,701.07 L312.17,701.03 L313.78,700.96 L315.37,700.85 L316.97,700.70 L318.55,700.53 L320.14,700.32 L321.72,700.08 L323.29,699.81 L324.86,699.52 L326.43,699.19 L327.99,698.84 L329.55,698.47 L331.11,698.07 L332.66,697.64 L334.21,697.20 L335.75,696.73 L337.29,696.24 L338.83,695.74 L340.37,695.21 L341.90,694.67 L343.43,694.11 L344.95,693.54 L346.48,692.95 L348.00,692.35 L349.52,691.74 L351.04,691.11 L352.55,690.47 L354.06,689.83 L355.58,689.18 L357.09,688.52 L358.59,687.85 L360.10,687.18 L361.61,686.51 L363.11,685.83 L364.61,685.15 L366.11,684.46 L367.61,683.78 L369.11,683.10 L370.61,682.42 L372.11,681.75 L373.61,681.07 L375.11,680.41 L376.60,679.74 L378.10,679.09 L379.60,678.44 L381.10,677.80 L382.59,677.16 L384.09,676.53 L385.59,675.90 L387.08,675.28 L388.58,674.66 L390.08,674.05 L391.58,673.45 L393.07,672.85 L394.57,672.25 L396.07,671.66 L397.57,671.07 L399.07,670.49 L400.56,669.91 L402.06,669.34 L403.56,668.77 L405.06,668.20 L406.56,667.64 L408.06,667.08 L409.56,666.53 L411.06,665.97 L412.56,665.42 L414.07,664.88 L415.57,664.34 L417.07,663.79 L418.58,663.26 L420.08,662.72 L421.59,662.19 L423.09,661.66 L424.60,661.13 L426.11,660.60 L427.61,660.07 L429.12,659.55 L430.63,659.03 L432.14,658.51 L433.65,657.99 L435.17,657.47 L436.68,656.95 L438.20,656.43 L439.71,655.92 L441.23,655.40 L442.74,654.89 L444.26,654.37 L445.78,653.86 L447.30,653.34 L448.83,652.83 L450.35,652.31 L451.87,651.80 L453.40,651.28 L454.93,650.76 L456.46,650.24 L457.99,649.73 L459.52,649.21 L461.05,648.69 L462.58,648.17 L464.12,647.66 L465.65,647.14 L467.19,646.62 L468.73,646.11 L470.27,645.60 L471.81,645.09 L473.35,644.58 L474.90,644.07 L476.44,643.57 L477.99,643.07 L479.54,642.57 L481.09,642.07 L482.64,641.58 L484.19,641.09 L485.74,640.61 L487.30,640.13 L488.85,639.65 L490.41,639.18 L491.97,638.71 L493.52,638.25 L495.08,637.80 L496.65,637.35 L498.21,636.90 L499.77,636.46 L501.34,636.03 L502.90,635.60 L504.47,635.18 L506.04,634.77 L507.61,634.37 L509.18,633.97 L510.76,633.58 L512.33,633.20 L513.91,632.82 L515.48,632.46 L517.06,632.10 L518.64,631.75 L520.22,631.41 L521.80,631.08 L523.38,630.76 L524.97,630.45 L526.55,630.15 L528.14,629.86 L529.72,629.57 L531.31,629.30 L532.90,629.03 L534.49,628.78 L536.08,628.53 L537.67,628.30 L539.26,628.07 L540.86,627.85 L542.45,627.64 L544.05,627.44 L545.65,627.25 L547.24,627.07 L548.84,626.90 L550.44,626.74 L552.04,626.59 L553.64,626.45 L555.24,626.31 L556.84,626.19 L558.44,626.08 L560.05,625.97 L561.65,625.88 L563.25,625.80 L564.86,625.72 L566.46,625.66 L568.07,625.60 L569.68,625.56 L571.28,625.52 L572.89,625.50 L574.50,625.48 L576.11,625.48 L577.72,625.48 L579.33,625.50 L580.93,625.52 L582.54,625.55 L584.15,625.60 L585.76,625.65 L587.37,625.72 L588.99,625.79 L590.60,625.87 L592.21,625.96 L593.82,626.06 L595.43,626.17 L597.04,626.29 L598.65,626.41 L600.27,626.54 L601.88,626.67 L603.49,626.81 L605.10,626.96 L606.72,627.11 L608.33,627.26 L609.94,627.42 L611.56,627.58 L613.17,627.75 L614.78,627.92 L616.40,628.09 L618.01,628.26 L619.62,628.43 L621.24,628.60 L622.85,628.78 L624.46,628.95 L626.08,629.12 L627.69,629.29 L629.30,629.46 L630.92,629.63 L632.53,629.80 L634.14,629.96 L635.76,630.12 L637.37,630.27 L638.98,630.43 L640.60,630.57 L642.21,630.71 L643.82,630.85 L645.43,630.98 L647.05,631.11 L648.66,631.22 L650.27,631.33 L651.88,631.44 L653.50,631.53 L655.11,631.62 L656.72,631.69 L658.33,631.76 L659.94,631.82 L661.55,631.87 L663.16,631.91 L664.78,631.95 L666.39,631.98 L668.00,632.00 L669.61,632.01 L671.22,632.01 L672.83,632.01 L674.44,632.00 L676.05,631.98 L677.66,631.95 L679.27,631.92 L680.88,631.88 L682.48,631.84 L684.09,631.79 L685.70,631.73 L687.31,631.67 L688.92,631.60 L690.53,631.52 L692.14,631.44 L693.75,631.35 L695.35,631.26 L696.96,631.16 L698.57,631.06 L700.18,630.96 L701.79,630.84 L703.39,630.73 L705.00,630.61 L706.61,630.48 L708.22,630.35 L709.82,630.22 L711.43,630.08 L713.04,629.94 L714.65,629.79 L716.25,629.64 L717.86,629.49 L719.47,629.34 L721.07,629.18 L722.68,629.02 L724.29,628.85 L725.90,628.69 L727.50,628.52 L729.11,628.35 L730.72,628.17 L732.32,628.00 L733.93,627.82 L735.54,627.64 L737.14,627.46 L738.75,627.27 L740.36,627.09 L741.97,626.90 L743.57,626.72 L745.18,626.53 L746.79,626.34 L748.39,626.15 L750.00,625.97 L751.61,625.78 L753.21,625.59 L754.82,625.40 L756.43,625.21 L758.04,625.02 L759.64,624.83 L761.25,624.64 L762.86,624.45 L764.47,624.26 L766.07,624.08 L767.68,623.89 L769.29,623.71 L770.90,623.53 L772.50,623.35 L774.11,623.17 L775.72,622.99 L777.33,622.81 L778.94,622.64 L780.54,622.47 L782.15,622.30 L783.76,622.13 L785.37,621.97 L786.98,621.81 L788.59,621.65 L790.19,621.50 L791.80,621.34 L793.41,621.20 L795.02,621.05 L796.63,620.91 L798.24,620.77 L799.85,620.63 L801.46,620.50 L803.07,620.37 L804.68,620.24 L806.29,620.12 L807.90,620.00 L809.51,619.88 L811.12,619.76 L812.73,619.65 L814.34,619.54 L815.95,619.43 L817.56,619.32 L819.17,619.22 L820.78,619.11 L822.39,619.01 L824.00,618.92 L825.61,618.82 L827.23,618.73 L828.84,618.63 L830.45,618.54 L832.06,618.46 L833.67,618.37 L835.28,618.29 L836.89,618.20 L838.51,618.12 L840.12,618.04 L841.73,617.96 L843.34,617.89 L844.95,617.81 L846.57,617.74 L848.18,617.67 L849.79,617.60 L851.40,617.53 L853.02,617.46 L854.63,617.39 L856.24,617.32 L857.85,617.26 L859.47,617.19 L861.08,617.13 L862.69,617.07 L864.31,617.01 L865.92,616.94 L867.53,616.88 L869.14,616.82 L870.76,616.76 L872.37,616.70 L873.98,616.65 L875.60,616.59 L877.21,616.53 L878.82,616.47 L880.44,616.41 L882.05,616.36 L883.66,616.30 L885.28,616.24 L886.89,616.18 L888.51,616.13 L890.12,616.07 L891.73,616.01 L893.35,615.95 L894.96,615.89 L896.58,615.84 L898.19,615.78 L899.80,615.72 L901.42,615.66 L903.03,615.60 L904.65,615.54 L906.26,615.47 L907.87,615.41 L909.49,615.35 L911.10,615.28 L912.72,615.22 L914.33,615.15 L915.95,615.08 L917.56,615.01 L919.17,614.95 L920.79,614.87 L922.40,614.80 L924.02,614.73 L925.63,614.65 L927.25,614.58 L928.86,614.50 L930.47,614.42 L932.09,614.34 L933.70,614.26 L935.32,614.17 L936.93,614.09 L938.55,614.00 L940.16,613.91 L941.78,613.82 L943.39,613.73 L945.01,613.63" stroke="#9BBB59" stroke-width="4.85" stroke-dasharray="14.55 19.40" stroke-dashoffset="1.14"/>
<path d="M182.39,-0.02 L182.52,1.80 L182.65,3.63 L182.77,5.45 L182.90,7.28 L183.02,9.11 L183.15,10.93 L183.27,12.76 L183.40,14.58 L183.52,16.41 L183.65,18.23 L183.77,20.06 L183.90,21.88 L184.02,23.71 L184.15,25.53 L184.27,27.36 L184.40,29.18 L184.52,31.01 L184.65,32.83 L184.77,34.66 L184.89,36.48 L185.02,38.31 L185.14,40.13 L185.27,41.96 L185.39,43.79 L185.52,45.61 L185.64,47.44 L185.76,49.26 L185.89,51.09 L186.01,52.91 L186.14,54.74 L186.26,56.56 L186.38,58.39 L186.51,60.21 L186.63,62.04 L186.75,63.86 L186.88,65.69 L187.00,67.51 L187.13,69.34 L187.25,71.16 L187.37,72.99 L187.50,74.81 L187.62,76.64 L187.75,78.46 L187.87,80.28 L187.99,82.11 L188.12,83.93 L188.24,85.76 L188.37,87.58 L188.49,89.41 L188.61,91.23 L188.74,93.06 L188.86,94.88 L188.99,96.71 L189.11,98.53 L189.23,100.36 L189.36,102.18 L189.48,104.01 L189.61,105.83 L189.73,107.66 L189.85,109.48 L189.98,111.30 L190.10,113.13 L190.23,114.95 L190.35,116.78 L190.48,118.60 L190.60,120.43 L190.73,122.25 L190.85,124.08 L190.98,125.90 L191.10,127.73 L191.22,129.55 L191.35,131.37 L191.47,133.20 L191.60,135.02 L191.73,136.85 L191.85,138.67 L191.98,140.50 L192.10,142.32 L192.23,144.15 L192.35,145.97 L192.48,147.79 L192.60,149.62 L192.73,151.44 L192.86,153.27 L192.98,155.09 L193.11,156.92 L193.23,158.74 L193.36,160.56 L193.49,162.39 L193.61,164.21 L193.74,166.04 L193.87,167.86 L194.00,169.68 L194.12,171.51 L194.25,173.33 L194.38,175.16 L194.50,176.98 L194.63,178.81 L194.76,180.63 L194.89,182.45 L195.02,184.28 L195.14,186.10 L195.27,187.93 L195.40,189.75 L195.53,191.57 L195.66,193.40 L195.79,195.22 L195.92,197.05 L196.05,198.87 L196.18,200.69 L196.31,202.52 L196.44,204.34 L196.57,206.16 L196.70,207.99 L196.83,209.81 L196.96,211.64 L197.09,213.46 L197.22,215.28 L197.35,217.11 L197.48,218.93 L197.61,220.75 L197.74,222.58 L197.88,224.40 L198.01,226.23 L198.14,228.05 L198.27,229.87 L198.40,231.70 L198.54,233.52 L198.67,235.34 L198.80,237.17 L198.94,238.99 L199.07,240.81 L199.20,242.64 L199.34,244.46 L199.47,246.29 L199.61,248.11 L199.74,249.93 L199.88,251.76 L200.01,253.58 L200.15,255.40 L200.28,257.23 L200.42,259.05 L200.56,260.87 L200.69,262.70 L200.83,264.52 L200.97,266.34 L201.10,268.17 L201.24,269.99 L201.38,271.81 L201.52,273.64 L201.65,275.46 L201.79,277.28 L201.93,279.11 L202.07,280.93 L202.21,282.75 L202.35,284.58 L202.49,286.40 L202.63,288.22 L202.77,290.05 L202.91,291.87 L203.05,293.69 L203.19,295.51 L203.33,297.34 L203.47,299.16 L203.62,300.98 L203.76,302.81 L203.90,304.63 L204.04,306.45 L204.19,308.28 L204.33,310.10 L204.47,311.92 L204.62,313.75 L204.76,315.57 L204.91,317.39 L205.05,319.21 L205.20,321.04 L205.34,322.86 L205.49,324.68 L205.64,326.51 L205.78,328.33 L205.93,330.15 L206.08,331.97 L206.22,333.80 L206.37,335.62 L206.52,337.44 L206.67,339.26 L206.82,341.09 L206.97,342.91 L207.12,344.73 L207.27,346.56 L207.42,348.38 L207.57,350.20 L207.72,352.02 L207.87,353.85 L208.02,355.67 L208.18,357.49 L208.33,359.31 L208.48,361.14 L208.64,362.96 L208.79,364.78 L208.94,366.60 L209.10,368.43 L209.25,370.25 L209.41,372.07 L209.56,373.89 L209.72,375.72 L209.88,377.54 L210.03,379.36 L210.19,381.18 L210.35,383.01 L210.51,384.83 L210.66,386.65 L210.82,388.47 L210.98,390.30 L211.14,392.12 L211.30,393.94 L211.46,395.76 L211.62,397.58 L211.78,399.41 L211.95,401.23 L212.11,403.05 L212.27,404.87 L212.43,406.70 L212.60,408.52 L212.76,410.34 L212.92,412.16 L213.09,413.98 L213.25,415.81 L213.42,417.63 L213.59,419.45 L213.75,421.27 L213.92,423.09 L214.09,424.92 L214.25,426.74 L214.42,428.56 L214.59,430.38 L214.76,432.20 L214.93,434.03 L215.10,435.85 L215.27,437.67 L215.44,439.49 L215.61,441.31 L215.79,443.13 L215.96,444.96 L216.13,446.78 L216.31,448.60 L216.48,450.42 L216.65,452.24 L216.83,454.07 L217.00,455.89 L217.18,457.71 L217.36,459.53 L217.53,461.35 L217.71,463.17 L217.89,465.00 L218.07,466.82 L218.25,468.64 L218.43,470.46 L218.61,472.28 L218.79,474.10 L218.97,475.92 L219.15,477.75 L219.33,479.57 L219.51,481.39 L219.70,483.21 L219.88,485.03 L220.06,486.85 L220.25,488.67 L220.43,490.50 L220.62,492.32 L220.81,494.14 L220.99,495.96 L221.18,497.78 L221.37,499.60 L221.56,501.42 L221.75,503.25 L221.94,505.07 L222.13,506.89 L222.32,508.71 L222.51,510.53 L222.70,512.35 L222.89,514.17 L223.09,515.99 L223.28,517.81 L223.48,519.63 L223.67,521.46 L223.87,523.28 L224.07,525.10 L224.26,526.92 L224.46,528.74 L224.66,530.56 L224.86,532.38 L225.07,534.20 L225.27,536.02 L225.47,537.84 L225.68,539.65 L225.88,541.47 L226.09,543.29 L226.30,545.11 L226.51,546.93 L226.72,548.75 L226.93,550.57 L227.14,552.38 L227.35,554.20 L227.57,556.02 L227.78,557.84 L228.00,559.65 L228.22,561.47 L228.44,563.28 L228.66,565.10 L228.88,566.92 L229.10,568.73 L229.33,570.55 L229.55,572.36 L229.78,574.18 L230.01,575.99 L230.24,577.80 L230.47,579.62 L230.70,581.43 L230.93,583.24 L231.17,585.06 L231.41,586.87 L231.65,588.68 L231.89,590.49 L232.13,592.30 L232.37,594.11 L232.62,595.92 L232.86,597.73 L233.11,599.54 L233.36,601.35 L233.61,603.16 L233.86,604.96 L234.12,606.77 L234.38,608.58 L234.63,610.38 L234.89,612.19 L235.16,614.00 L235.42,615.80 L235.69,617.61 L235.95,619.41 L236.22,621.21 L236.49,623.02 L236.77,624.82 L237.04,626.62 L237.32,628.42 L237.60,630.22 L237.88,632.02 L238.16,633.82 L238.45,635.62 L238.73,637.42 L239.02,639.22 L239.32,641.01 L239.61,642.81 L239.90,644.61 L240.20,646.40 L240.50,648.20 L240.81,649.99 L241.11,651.78 L241.42,653.58 L241.73,655.37 L242.05,657.16 L242.37,658.95 L242.70,660.74 L243.03,662.53 L243.37,664.31 L243.72,666.10 L244.07,667.89 L244.43,669.67 L244.80,671.46 L245.18,673.24 L245.57,675.02 L245.97,676.80 L246.38,678.58 L246.80,680.36 L247.23,682.14 L247.67,683.92 L248.12,685.69 L248.59,687.47 L249.07,689.24 L249.57,691.01 L250.07,692.79 L250.60,694.56 L251.13,696.32 L251.69,698.09 L252.26,699.86 L252.84,701.62 L253.45,703.38 L254.07,705.15 L254.71,706.91 L255.37,708.66 L256.04,710.42 L256.74,712.18 L257.46,713.93 L258.19,715.68 L258.95,717.44 L259.73,719.18 L260.54,720.93 L261.37,722.65 L262.22,724.36 L263.11,726.05 L264.02,727.70 L264.97,729.32 L265.95,730.89 L266.97,732.42 L268.02,733.89 L269.12,735.30 L270.26,736.65 L271.44,737.93 L272.66,739.13 L273.93,740.24 L275.25,741.27 L276.63,742.20 L278.05,743.04 L279.53,743.76 L281.06,744.38 L282.64,744.90 L284.27,745.30 L285.93,745.61 L287.63,745.83 L289.36,745.95 L291.12,745.97 L292.89,745.92 L294.69,745.77 L296.49,745.55 L298.30,745.24 L300.11,744.87 L301.92,744.42 L303.72,743.90 L305.51,743.31 L307.28,742.67 L309.03,741.96 L310.75,741.20 L312.44,740.38 L314.10,739.52 L315.73,738.60 L317.32,737.64 L318.89,736.65 L320.44,735.61 L321.96,734.54 L323.46,733.44 L324.94,732.31 L326.41,731.16 L327.86,729.98 L329.29,728.79 L330.71,727.58 L332.13,726.36 L333.53,725.13 L334.94,723.89 L336.33,722.65 L337.73,721.42 L339.13,720.18 L340.52,718.95 L341.93,717.74 L343.33,716.53 L344.75,715.34 L346.17,714.17 L347.60,713.01 L349.04,711.86 L350.48,710.73 L351.93,709.62 L353.39,708.52 L354.86,707.44 L356.34,706.37 L357.83,705.33 L359.33,704.30 L360.83,703.29 L362.35,702.30 L363.88,701.33 L365.42,700.38 L366.97,699.44 L368.53,698.53 L370.11,697.65 L371.69,696.78 L373.29,695.93 L374.90,695.10 L376.52,694.30 L378.15,693.51 L379.79,692.73 L381.44,691.98 L383.09,691.24 L384.76,690.52 L386.44,689.81 L388.12,689.11 L389.81,688.43 L391.51,687.76 L393.21,687.10 L394.92,686.45 L396.64,685.82 L398.36,685.19 L400.08,684.57 L401.81,683.95 L403.54,683.35 L405.28,682.75 L407.02,682.15 L408.76,681.56 L410.51,680.97 L412.25,680.39 L414.00,679.81 L415.75,679.23 L417.50,678.65 L419.25,678.07 L421.00,677.49 L422.74,676.91 L424.49,676.32 L426.23,675.73 L427.98,675.14 L429.72,674.55 L431.45,673.94 L433.19,673.33 L434.92,672.72 L436.64,672.10 L438.36,671.46 L440.08,670.82 L441.79,670.17 L443.49,669.51 L445.19,668.83 L446.88,668.15 L448.56,667.45 L450.23,666.73 L451.90,666.00 L453.56,665.26 L455.21,664.50 L456.85,663.73 L458.48,662.94 L460.11,662.14 L461.73,661.32 L463.34,660.50 L464.95,659.66 L466.55,658.81 L468.15,657.95 L469.74,657.08 L471.32,656.20 L472.90,655.31 L474.48,654.41 L476.05,653.50 L477.62,652.59 L479.19,651.66 L480.75,650.73 L482.31,649.80 L483.87,648.86 L485.42,647.91 L486.98,646.96 L488.53,646.01 L490.09,645.05 L491.64,644.09 L493.19,643.13 L494.74,642.16 L496.30,641.20 L497.85,640.23 L499.41,639.26 L500.96,638.30 L502.52,637.33 L504.08,636.37 L505.65,635.40 L507.21,634.44 L508.78,633.48 L510.36,632.53 L511.94,631.58 L513.52,630.63 L515.10,629.69 L516.70,628.75 L518.29,627.82 L519.89,626.90 L521.50,625.98 L523.11,625.07 L524.73,624.17 L526.35,623.28 L527.97,622.40 L529.60,621.52 L531.23,620.65 L532.87,619.80 L534.52,618.96 L536.17,618.12 L537.82,617.30 L539.48,616.49 L541.14,615.70 L542.81,614.91 L544.48,614.14 L546.16,613.39 L547.84,612.65 L549.52,611.92 L551.22,611.21 L552.91,610.51 L554.61,609.84 L556.32,609.18 L558.03,608.53 L559.74,607.91 L561.46,607.30 L563.18,606.71 L564.91,606.14 L566.64,605.60 L568.38,605.07 L570.12,604.56 L571.87,604.07 L573.62,603.61 L575.37,603.17 L577.13,602.75 L578.90,602.35 L580.67,601.98 L582.44,601.63 L584.22,601.31 L586.00,601.00 L587.79,600.72 L589.58,600.47 L591.37,600.23 L593.17,600.01 L594.97,599.81 L596.77,599.64 L598.58,599.48 L600.39,599.33 L602.21,599.21 L604.02,599.10 L605.84,599.00 L607.67,598.92 L609.49,598.86 L611.32,598.81 L613.14,598.77 L614.98,598.74 L616.81,598.73 L618.64,598.73 L620.48,598.73 L622.31,598.75 L624.15,598.77 L625.99,598.81 L627.83,598.85 L629.67,598.90 L631.51,598.95 L633.35,599.01 L635.20,599.08 L637.04,599.15 L638.88,599.22 L640.72,599.30 L642.56,599.37 L644.41,599.45 L646.25,599.54 L648.09,599.62 L649.93,599.70 L651.76,599.78 L653.60,599.86 L655.44,599.94 L657.27,600.01 L659.11,600.09 L660.94,600.17 L662.78,600.25 L664.61,600.33 L666.44,600.40 L668.27,600.48 L670.10,600.56 L671.93,600.64 L673.76,600.72 L675.59,600.80 L677.42,600.87 L679.24,600.96 L681.07,601.04 L682.90,601.12 L684.72,601.20 L686.55,601.29 L688.37,601.37 L690.19,601.46 L692.02,601.55 L693.84,601.64 L695.66,601.73 L697.48,601.82 L699.30,601.92 L701.13,602.02 L702.95,602.11 L704.77,602.22 L706.59,602.32 L708.41,602.42 L710.23,602.53 L712.04,602.64 L713.86,602.76 L715.68,602.87 L717.50,602.99 L719.32,603.11 L721.14,603.24 L722.95,603.37 L724.77,603.50 L726.59,603.63 L728.41,603.77 L730.23,603.91 L732.04,604.06 L733.86,604.21 L735.68,604.36 L737.50,604.52 L739.31,604.68 L741.13,604.84 L742.95,605.01 L744.77,605.18 L746.58,605.36 L748.40,605.54 L750.22,605.73 L752.04,605.91 L753.86,606.11 L755.67,606.30 L757.49,606.50 L759.31,606.70 L761.13,606.90 L762.95,607.11 L764.76,607.32 L766.58,607.53 L768.40,607.75 L770.22,607.97 L772.04,608.19 L773.85,608.41 L775.67,608.64 L777.49,608.87 L779.31,609.10 L781.12,609.33 L782.94,609.56 L784.76,609.80 L786.58,610.04 L788.39,610.28 L790.21,610.52 L792.03,610.76 L793.85,611.00 L795.66,611.25 L797.48,611.49 L799.30,611.74 L801.11,611.99 L802.93,612.24 L804.75,612.49 L806.56,612.74 L808.38,612.99 L810.19,613.24 L812.01,613.49 L813.83,613.74 L815.64,613.99 L817.46,614.24 L819.27,614.49 L821.09,614.74 L822.90,614.98 L824.72,615.22 L826.53,615.46 L828.35,615.69 L830.16,615.92 L831.98,616.14 L833.79,616.36 L835.61,616.58 L837.43,616.78 L839.24,616.99 L841.06,617.18 L842.87,617.37 L844.69,617.54 L846.51,617.71 L848.32,617.88 L850.14,618.03 L851.96,618.17 L853.78,618.30 L855.59,618.43 L857.41,618.54 L859.23,618.64 L861.05,618.72 L862.87,618.80 L864.69,618.86 L866.51,618.91 L868.33,618.95 L870.15,618.97 L871.98,618.98 L873.80,618.97 L875.62,618.95 L877.44,618.91 L879.27,618.85 L881.09,618.78 L882.92,618.69 L884.74,618.59 L886.57,618.47 L888.40,618.34 L890.22,618.20 L892.05,618.04 L893.88,617.88 L895.71,617.71 L897.54,617.53 L899.36,617.34 L901.19,617.15 L903.02,616.96 L904.85,616.76 L906.68,616.57 L908.51,616.37 L910.33,616.17 L912.16,615.98 L913.99,615.79 L915.82,615.60 L917.64,615.42 L919.47,615.24 L921.30,615.08 L923.12,614.92 L924.95,614.77 L926.77,614.64 L928.60,614.51 L930.42,614.40 L932.24,614.31 L934.07,614.23 L935.89,614.17 L937.71,614.13 L939.53,614.10 L941.34,614.10 L943.16,614.12 L944.98,614.16" stroke="#7F7F7F" stroke-width="4.85" stroke-dasharray="14.55 19.40 0.01 19.40" stroke-dashoffset="24.81"/>
<path d="M239.98,-0.04 L240.12,1.51 L240.26,3.07 L240.40,4.62 L240.54,6.17 L240.69,7.72 L240.83,9.28 L240.97,10.83 L241.11,12.38 L241.25,13.93 L241.40,15.48 L241.54,17.04 L241.68,18.59 L241.82,20.14 L241.96,21.69 L242.11,23.24 L242.25,24.79 L242.39,26.34 L242.53,27.90 L242.67,29.45 L242.81,31.00 L242.96,32.55 L243.10,34.10 L243.24,35.65 L243.38,37.20 L243.52,38.75 L243.67,40.30 L243.81,41.85 L243.95,43.40 L244.09,44.95 L244.24,46.50 L244.38,48.05 L244.52,49.60 L244.66,51.15 L244.80,52.70 L244.95,54.25 L245.09,55.80 L245.23,57.35 L245.38,58.90 L245.52,60.45 L245.66,61.99 L245.80,63.54 L245.95,65.09 L246.09,66.64 L246.23,68.19 L246.38,69.74 L246.52,71.29 L246.66,72.84 L246.81,74.38 L246.95,75.93 L247.10,77.48 L247.24,79.03 L247.38,80.58 L247.53,82.12 L247.67,83.67 L247.82,85.22 L247.96,86.77 L248.11,88.31 L248.25,89.86 L248.40,91.41 L248.54,92.96 L248.69,94.50 L248.84,96.05 L248.98,97.60 L249.13,99.15 L249.27,100.69 L249.42,102.24 L249.57,103.79 L249.71,105.33 L249.86,106.88 L250.01,108.43 L250.16,109.97 L250.30,111.52 L250.45,113.06 L250.60,114.61 L250.75,116.16 L250.90,117.70 L251.05,119.25 L251.20,120.79 L251.35,122.34 L251.49,123.89 L251.64,125.43 L251.79,126.98 L251.94,128.52 L252.10,130.07 L252.25,131.61 L252.40,133.16 L252.55,134.70 L252.70,136.25 L252.85,137.79 L253.00,139.34 L253.16,140.88 L253.31,142.43 L253.46,143.97 L253.62,145.52 L253.77,147.06 L253.92,148.61 L254.08,150.15 L254.23,151.70 L254.39,153.24 L254.54,154.79 L254.70,156.33 L254.85,157.88 L255.01,159.42 L255.16,160.96 L255.32,162.51 L255.48,164.05 L255.64,165.60 L255.79,167.14 L255.95,168.68 L256.11,170.23 L256.27,171.77 L256.43,173.31 L256.59,174.86 L256.75,176.40 L256.91,177.95 L257.07,179.49 L257.23,181.03 L257.39,182.58 L257.55,184.12 L257.71,185.66 L257.88,187.20 L258.04,188.75 L258.20,190.29 L258.37,191.83 L258.53,193.38 L258.69,194.92 L258.86,196.46 L259.02,198.01 L259.19,199.55 L259.36,201.09 L259.52,202.63 L259.69,204.18 L259.86,205.72 L260.03,207.26 L260.19,208.80 L260.36,210.35 L260.53,211.89 L260.70,213.43 L260.87,214.97 L261.04,216.51 L261.21,218.06 L261.38,219.60 L261.56,221.14 L261.73,222.68 L261.90,224.22 L262.07,225.77 L262.25,227.31 L262.42,228.85 L262.60,230.39 L262.77,231.93 L262.95,233.48 L263.13,235.02 L263.30,236.56 L263.48,238.10 L263.66,239.64 L263.84,241.18 L264.01,242.73 L264.19,244.27 L264.37,245.81 L264.55,247.35 L264.74,248.89 L264.92,250.43 L265.10,251.97 L265.28,253.51 L265.46,255.06 L265.65,256.60 L265.83,258.14 L266.02,259.68 L266.20,261.22 L266.39,262.76 L266.58,264.30 L266.76,265.84 L266.95,267.38 L267.14,268.92 L267.33,270.46 L267.52,272.01 L267.71,273.55 L267.90,275.09 L268.09,276.63 L268.28,278.17 L268.47,279.71 L268.67,281.25 L268.86,282.79 L269.05,284.33 L269.25,285.87 L269.45,287.41 L269.64,288.95 L269.84,290.49 L270.04,292.03 L270.23,293.57 L270.43,295.11 L270.63,296.65 L270.83,298.19 L271.03,299.73 L271.23,301.28 L271.44,302.82 L271.64,304.36 L271.84,305.90 L272.05,307.44 L272.25,308.98 L272.46,310.52 L272.66,312.06 L272.87,313.60 L273.08,315.14 L273.29,316.68 L273.49,318.22 L273.70,319.76 L273.91,321.30 L274.13,322.84 L274.34,324.38 L274.55,325.92 L274.76,327.46 L274.98,329.00 L275.19,330.54 L275.41,332.08 L275.62,333.62 L275.84,335.16 L276.06,336.70 L276.28,338.24 L276.50,339.78 L276.72,341.32 L276.94,342.86 L277.16,344.39 L277.38,345.93 L277.60,347.47 L277.83,349.01 L278.05,350.55 L278.28,352.09 L278.50,353.63 L278.73,355.17 L278.96,356.71 L279.19,358.25 L279.41,359.79 L279.64,361.33 L279.88,362.87 L280.11,364.41 L280.34,365.95 L280.57,367.49 L280.81,369.03 L281.04,370.57 L281.28,372.11 L281.51,373.65 L281.75,375.19 L281.99,376.73 L282.23,378.27 L282.47,379.81 L282.71,381.35 L282.95,382.89 L283.19,384.43 L283.44,385.97 L283.68,387.51 L283.93,389.05 L284.17,390.59 L284.42,392.13 L284.67,393.67 L284.92,395.20 L285.17,396.74 L285.42,398.28 L285.67,399.82 L285.92,401.36 L286.17,402.90 L286.43,404.44 L286.68,405.98 L286.94,407.52 L287.20,409.06 L287.46,410.60 L287.72,412.14 L287.98,413.68 L288.24,415.22 L288.50,416.76 L288.77,418.29 L289.04,419.83 L289.31,421.37 L289.58,422.91 L289.85,424.44 L290.12,425.98 L290.40,427.52 L290.67,429.05 L290.95,430.59 L291.23,432.12 L291.52,433.66 L291.80,435.19 L292.09,436.73 L292.38,438.26 L292.67,439.79 L292.96,441.32 L293.26,442.85 L293.55,444.38 L293.86,445.91 L294.16,447.44 L294.46,448.97 L294.77,450.50 L295.08,452.03 L295.39,453.55 L295.71,455.08 L296.03,456.60 L296.35,458.13 L296.67,459.65 L297.00,461.17 L297.33,462.69 L297.66,464.21 L298.00,465.73 L298.34,467.25 L298.68,468.77 L299.02,470.28 L299.37,471.80 L299.72,473.31 L300.08,474.83 L300.44,476.34 L300.80,477.85 L301.16,479.36 L301.53,480.87 L301.90,482.37 L302.28,483.88 L302.66,485.39 L303.04,486.89 L303.43,488.39 L303.82,489.89 L304.21,491.39 L304.61,492.89 L305.02,494.39 L305.42,495.88 L305.83,497.38 L306.25,498.87 L306.67,500.36 L307.09,501.85 L307.52,503.34 L307.95,504.82 L308.39,506.31 L308.83,507.79 L309.27,509.27 L309.72,510.75 L310.18,512.23 L310.63,513.71 L311.10,515.18 L311.57,516.65 L312.04,518.13 L312.52,519.60 L313.00,521.06 L313.49,522.53 L313.98,523.99 L314.48,525.46 L314.98,526.92 L315.49,528.37 L316.00,529.83 L316.52,531.29 L317.05,532.74 L317.58,534.19 L318.11,535.64 L318.65,537.08 L319.20,538.53 L319.75,539.97 L320.30,541.41 L320.87,542.85 L321.44,544.28 L322.01,545.72 L322.59,547.15 L323.18,548.57 L323.77,550.00 L324.37,551.42 L324.98,552.84 L325.59,554.26 L326.21,555.67 L326.84,557.08 L327.48,558.49 L328.12,559.90 L328.77,561.30 L329.43,562.70 L330.10,564.09 L330.77,565.48 L331.46,566.87 L332.15,568.25 L332.85,569.63 L333.56,571.01 L334.28,572.38 L335.00,573.75 L335.74,575.11 L336.48,576.47 L337.24,577.82 L338.00,579.17 L338.78,580.52 L339.56,581.86 L340.36,583.20 L341.16,584.53 L341.98,585.86 L342.80,587.18 L343.64,588.50 L344.49,589.81 L345.34,591.12 L346.21,592.42 L347.09,593.71 L347.98,595.01 L348.89,596.29 L349.80,597.57 L350.73,598.85 L351.67,600.11 L352.62,601.38 L353.58,602.63 L354.55,603.88 L355.54,605.11 L356.54,606.34 L357.55,607.56 L358.58,608.77 L359.61,609.97 L360.66,611.15 L361.72,612.32 L362.80,613.48 L363.88,614.63 L364.98,615.76 L366.10,616.88 L367.22,617.99 L368.36,619.07 L369.51,620.14 L370.68,621.20 L371.86,622.23 L373.05,623.25 L374.25,624.25 L375.47,625.22 L376.70,626.18 L377.95,627.12 L379.21,628.03 L380.48,628.93 L381.76,629.80 L383.06,630.65 L384.38,631.47 L385.70,632.27 L387.04,633.04 L388.40,633.78 L389.76,634.49 L391.14,635.17 L392.53,635.82 L393.93,636.43 L395.34,637.01 L396.77,637.55 L398.20,638.05 L399.65,638.52 L401.10,638.94 L402.57,639.32 L404.04,639.65 L405.53,639.94 L407.02,640.19 L408.52,640.40 L410.03,640.56 L411.54,640.69 L413.06,640.78 L414.59,640.83 L416.12,640.84 L417.65,640.82 L419.19,640.77 L420.73,640.69 L422.27,640.57 L423.82,640.42 L425.36,640.24 L426.91,640.04 L428.46,639.81 L430.00,639.55 L431.54,639.27 L433.09,638.97 L434.62,638.65 L436.16,638.30 L437.69,637.93 L439.22,637.55 L440.74,637.15 L442.25,636.73 L443.76,636.30 L445.27,635.85 L446.77,635.39 L448.26,634.92 L449.76,634.44 L451.24,633.94 L452.73,633.44 L454.21,632.93 L455.69,632.42 L457.17,631.89 L458.64,631.37 L460.12,630.84 L461.59,630.30 L463.06,629.77 L464.53,629.24 L466.00,628.70 L467.47,628.17 L468.94,627.64 L470.41,627.11 L471.88,626.59 L473.35,626.08 L474.82,625.57 L476.29,625.07 L477.77,624.58 L479.25,624.10 L480.73,623.63 L482.21,623.17 L483.70,622.72 L485.19,622.29 L486.68,621.88 L488.18,621.48 L489.68,621.10 L491.19,620.74 L492.70,620.39 L494.22,620.07 L495.74,619.76 L497.26,619.48 L498.79,619.21 L500.32,618.96 L501.86,618.73 L503.40,618.51 L504.94,618.32 L506.48,618.14 L508.03,617.98 L509.57,617.84 L511.12,617.72 L512.68,617.62 L514.23,617.53 L515.78,617.46 L517.34,617.41 L518.89,617.37 L520.45,617.36 L522.00,617.36 L523.56,617.38 L525.12,617.41 L526.67,617.46 L528.23,617.53 L529.78,617.62 L531.33,617.72 L532.88,617.84 L534.43,617.97 L535.98,618.12 L537.52,618.29 L539.06,618.47 L540.60,618.67 L542.14,618.89 L543.67,619.12 L545.20,619.37 L546.73,619.63 L548.25,619.91 L549.78,620.20 L551.30,620.51 L552.81,620.83 L554.33,621.16 L555.84,621.50 L557.34,621.86 L558.85,622.23 L560.35,622.61 L561.86,623.00 L563.35,623.41 L564.85,623.82 L566.34,624.25 L567.83,624.68 L569.32,625.13 L570.81,625.58 L572.30,626.04 L573.78,626.51 L575.26,626.99 L576.74,627.48 L578.22,627.97 L579.69,628.48 L581.16,628.98 L582.63,629.50 L584.10,630.02 L585.57,630.54 L587.04,631.08 L588.50,631.61 L589.97,632.15 L591.43,632.70 L592.89,633.25 L594.34,633.80 L595.80,634.35 L597.26,634.91 L598.71,635.47 L600.17,636.04 L601.62,636.61 L603.07,637.17 L604.52,637.74 L605.97,638.32 L607.42,638.89 L608.87,639.46 L610.32,640.04 L611.77,640.61 L613.22,641.19 L614.66,641.76 L616.11,642.34 L617.56,642.91 L619.01,643.48 L620.45,644.05 L621.90,644.62 L623.35,645.19 L624.80,645.76 L626.25,646.32 L627.70,646.88 L629.15,647.44 L630.60,648.00 L632.05,648.55 L633.51,649.10 L634.96,649.64 L636.42,650.18 L637.87,650.72 L639.33,651.25 L640.79,651.78 L642.25,652.30 L643.71,652.81 L645.17,653.32 L646.64,653.83 L648.11,654.32 L649.57,654.81 L651.05,655.30 L652.52,655.78 L653.99,656.24 L655.47,656.71 L656.95,657.16 L658.43,657.60 L659.91,658.04 L661.40,658.47 L662.89,658.89 L664.38,659.30 L665.88,659.70 L667.37,660.09 L668.87,660.47 L670.38,660.84 L671.88,661.20 L673.39,661.55 L674.91,661.89 L676.42,662.21 L677.94,662.52 L679.47,662.83 L681.00,663.12 L682.53,663.39 L684.06,663.66 L685.60,663.91 L687.14,664.15 L688.68,664.38 L690.23,664.60 L691.77,664.80 L693.32,665.00 L694.88,665.18 L696.43,665.34 L697.99,665.50 L699.54,665.64 L701.10,665.78 L702.66,665.90 L704.22,666.01 L705.78,666.10 L707.35,666.19 L708.91,666.26 L710.47,666.32 L712.03,666.37 L713.60,666.41 L715.16,666.43 L716.72,666.45 L718.28,666.45 L719.84,666.44 L721.40,666.42 L722.96,666.39 L724.51,666.35 L726.07,666.29 L727.62,666.22 L729.17,666.14 L730.72,666.05 L732.27,665.94 L733.82,665.82 L735.36,665.69 L736.91,665.54 L738.45,665.39 L739.99,665.21 L741.52,665.02 L743.06,664.82 L744.59,664.61 L746.12,664.37 L747.65,664.13 L749.17,663.87 L750.70,663.60 L752.22,663.31 L753.74,663.01 L755.25,662.70 L756.77,662.38 L758.28,662.05 L759.79,661.70 L761.30,661.34 L762.81,660.98 L764.31,660.60 L765.82,660.22 L767.32,659.83 L768.82,659.42 L770.31,659.01 L771.81,658.60 L773.30,658.17 L774.80,657.74 L776.29,657.30 L777.78,656.86 L779.26,656.41 L780.75,655.95 L782.24,655.49 L783.72,655.02 L785.20,654.55 L786.68,654.07 L788.16,653.58 L789.64,653.09 L791.12,652.60 L792.59,652.10 L794.06,651.60 L795.54,651.09 L797.01,650.57 L798.48,650.06 L799.95,649.54 L801.41,649.01 L802.88,648.48 L804.34,647.95 L805.81,647.42 L807.27,646.88 L808.73,646.34 L810.19,645.79 L811.65,645.25 L813.11,644.70 L814.57,644.15 L816.02,643.60 L817.48,643.05 L818.94,642.50 L820.39,641.95 L821.85,641.39 L823.31,640.84 L824.76,640.29 L826.22,639.74 L827.68,639.19 L829.13,638.65 L830.59,638.10 L832.05,637.56 L833.51,637.02 L834.97,636.49 L836.43,635.95 L837.89,635.42 L839.36,634.90 L840.82,634.38 L842.29,633.86 L843.75,633.35 L845.22,632.85 L846.69,632.35 L848.17,631.86 L849.64,631.37 L851.12,630.89 L852.59,630.42 L854.07,629.95 L855.56,629.49 L857.04,629.05 L858.53,628.60 L860.02,628.17 L861.51,627.74 L863.01,627.33 L864.51,626.92 L866.00,626.52 L867.51,626.12 L869.01,625.74 L870.51,625.36 L872.02,624.99 L873.53,624.63 L875.04,624.28 L876.56,623.94 L878.07,623.60 L879.59,623.27 L881.11,622.95 L882.63,622.64 L884.15,622.34 L885.67,622.04 L887.20,621.76 L888.73,621.48 L890.26,621.21 L891.79,620.95 L893.32,620.69 L894.85,620.45 L896.39,620.21 L897.92,619.98 L899.46,619.76 L901.00,619.55 L902.54,619.34 L904.08,619.15 L905.62,618.96 L907.17,618.78 L908.71,618.61 L910.26,618.45 L911.81,618.29 L913.35,618.15 L914.90,618.01 L916.45,617.88 L918.00,617.76 L919.55,617.65 L921.11,617.54 L922.66,617.45 L924.21,617.36 L925.77,617.28 L927.32,617.21 L928.88,617.15 L930.44,617.10 L931.99,617.05 L933.55,617.02 L935.11,616.99 L936.67,616.97 L938.22,616.96 L939.78,616.96 L941.34,616.96 L942.90,616.98 L944.46,617.00 L946.02,617.03" stroke="#000000" stroke-width="4.85"/>
</g>
<g stroke="#868686" stroke-width="1.3" fill="none">
<line x1="179.4" y1="4.75" x2="179.4" y2="890.3"/>
<line x1="179.4" y1="890.3" x2="945.0" y2="890.3"/>
<line x1="168.6" y1="35.39" x2="179.4" y2="35.39"/>
<line x1="168.6" y1="157.52" x2="179.4" y2="157.52"/>
<line x1="168.6" y1="279.65" x2="179.4" y2="279.65"/>
<line x1="168.6" y1="401.78" x2="179.4" y2="401.78"/>
<line x1="168.6" y1="523.91" x2="179.4" y2="523.91"/>
<line x1="168.6" y1="646.04" x2="179.4" y2="646.04"/>
<line x1="168.6" y1="768.17" x2="179.4" y2="768.17"/>
<line x1="168.6" y1="890.30" x2="179.4" y2="890.30"/>
<line x1="179.40" y1="890.3" x2="179.40" y2="901.0999999999999"/>
<line x1="398.15" y1="890.3" x2="398.15" y2="901.0999999999999"/>
<line x1="616.90" y1="890.3" x2="616.90" y2="901.0999999999999"/>
<line x1="835.65" y1="890.3" x2="835.65" y2="901.0999999999999"/>
</g>
<g style="font-family:'Liberation Serif',serif;font-weight:bold;fill:#000;stroke:#000;stroke-width:0.4;text-rendering:geometricPrecision">
<text y="45.69" font-size="34.0"><tspan x="80.91" textLength="67.49" lengthAdjust="spacingAndGlyphs">0.95</tspan></text>
<text y="167.82" font-size="34.0"><tspan x="80.91" textLength="67.49" lengthAdjust="spacingAndGlyphs">0.75</tspan></text>
<text y="289.95" font-size="34.0"><tspan x="80.91" textLength="67.49" lengthAdjust="spacingAndGlyphs">0.55</tspan></text>
<text y="412.08" font-size="34.0"><tspan x="80.91" textLength="67.49" lengthAdjust="spacingAndGlyphs">0.35</tspan></text>
<text y="534.21" font-size="34.0"><tspan x="80.91" textLength="67.49" lengthAdjust="spacingAndGlyphs">0.15</tspan></text>
<text y="656.34" font-size="34.0"><tspan x="70.01" textLength="9.86" lengthAdjust="spacingAndGlyphs">-</tspan><tspan x="80.91" textLength="67.49" lengthAdjust="spacingAndGlyphs">0.05</tspan></text>
<text y="778.47" font-size="34.0"><tspan x="70.01" textLength="9.86" lengthAdjust="spacingAndGlyphs">-</tspan><tspan x="80.91" textLength="67.49" lengthAdjust="spacingAndGlyphs">0.25</tspan></text>
<text y="900.60" font-size="34.0"><tspan x="70.01" textLength="9.86" lengthAdjust="spacingAndGlyphs">-</tspan><tspan x="80.91" textLength="67.49" lengthAdjust="spacingAndGlyphs">0.45</tspan></text>
<text y="943.10" font-size="34.0"><tspan x="145.50" textLength="67.80" lengthAdjust="spacingAndGlyphs">2.00</tspan></text>
<text y="943.10" font-size="34.0"><tspan x="364.25" textLength="67.80" lengthAdjust="spacingAndGlyphs">3.00</tspan></text>
<text y="943.10" font-size="34.0"><tspan x="583.98" textLength="66.80" lengthAdjust="spacingAndGlyphs">4.00</tspan></text>
<text y="943.10" font-size="34.0"><tspan x="801.75" textLength="67.80" lengthAdjust="spacingAndGlyphs">5.00</tspan></text>
</g>
<g style="font-family:'Liberation Serif',serif;font-weight:bold;fill:#000;stroke:#000;stroke-width:0.6;text-rendering:geometricPrecision">
<text y="1032.80" font-size="34.0"><tspan x="319.79" textLength="182.42" lengthAdjust="spacingAndGlyphs">Interatomic</tspan> <tspan x="511.42" textLength="132.97" lengthAdjust="spacingAndGlyphs">Distance</tspan> <tspan x="654.67" textLength="59.06" lengthAdjust="spacingAndGlyphs">(0.1</tspan> <tspan x="722.85" textLength="62.33" lengthAdjust="spacingAndGlyphs">nm)</tspan></text>
<g transform="translate(25.3,516.6) rotate(-90)">
<text y="0.00" font-size="34.0"><tspan x="0.00" textLength="63.61" lengthAdjust="spacingAndGlyphs">V(r)</tspan> <tspan x="73.15" textLength="65.09" lengthAdjust="spacingAndGlyphs">(eV)</tspan></text>
</g>
</g>
<g fill="none" stroke-linecap="round">
<line x1="435.43" y1="112.30" x2="496.38" y2="112.30" stroke="#FF0000" stroke-width="4.85" stroke-dasharray="33.95 19.40 0.01 19.40"/>
<line x1="435.43" y1="180.40" x2="496.38" y2="180.40" stroke="#EE00FF" stroke-width="4.85" stroke-dasharray="33.95 19.40"/>
<line x1="435.43" y1="248.50" x2="496.38" y2="248.50" stroke="#9BBB59" stroke-width="4.85" stroke-dasharray="14.55 19.40"/>
<line x1="435.43" y1="316.70" x2="496.38" y2="316.70" stroke="#7F7F7F" stroke-width="4.85" stroke-dasharray="14.55 19.40 0.01 19.40"/>
<line x1="435.43" y1="384.80" x2="496.38" y2="384.80" stroke="#000000" stroke-width="4.85"/>
</g>
<g style="font-family:'Liberation Serif',serif;font-weight:bold;fill:#000;stroke:#000;stroke-width:0.8;text-rendering:geometricPrecision;font-style:italic">
<text y="121.70" font-size="33.8"><tspan x="503.70" textLength="170.92" lengthAdjust="spacingAndGlyphs">Component</tspan> <tspan x="685.83" textLength="18.40" lengthAdjust="spacingAndGlyphs">1</tspan> <tspan x="711.38" textLength="68.54" lengthAdjust="spacingAndGlyphs">(FCC</tspan> <tspan x="787.75" textLength="48.44" lengthAdjust="spacingAndGlyphs">Fe)</tspan></text>
<text y="189.80" font-size="33.8"><tspan x="503.70" textLength="170.92" lengthAdjust="spacingAndGlyphs">Component</tspan> <tspan x="684.96" textLength="15.67" lengthAdjust="spacingAndGlyphs">2</tspan> <tspan x="711.38" textLength="68.54" lengthAdjust="spacingAndGlyphs">(FCC</tspan> <tspan x="787.89" textLength="45.82" lengthAdjust="spacingAndGlyphs">Ni)</tspan></text>
<text y="257.90" font-size="33.8"><tspan x="503.70" textLength="170.92" lengthAdjust="spacingAndGlyphs">Component</tspan> <tspan x="685.81" textLength="15.83" lengthAdjust="spacingAndGlyphs">3</tspan> <tspan x="711.38" textLength="68.54" lengthAdjust="spacingAndGlyphs">(FCC</tspan> <tspan x="788.28" textLength="46.41" lengthAdjust="spacingAndGlyphs">Cr)</tspan></text>
<text y="326.10" font-size="33.8"><tspan x="503.70" textLength="170.92" lengthAdjust="spacingAndGlyphs">Component</tspan> <tspan x="686.16" textLength="17.01" lengthAdjust="spacingAndGlyphs">4</tspan> <tspan x="711.38" textLength="68.54" lengthAdjust="spacingAndGlyphs">(FCC</tspan> <tspan x="788.29" textLength="49.61" lengthAdjust="spacingAndGlyphs">Co)</tspan></text>
<text y="394.20" font-size="33.8"><tspan x="503.70" textLength="170.92" lengthAdjust="spacingAndGlyphs">Component</tspan> <tspan x="685.32" textLength="16.34" lengthAdjust="spacingAndGlyphs">5</tspan> <tspan x="711.38" textLength="68.54" lengthAdjust="spacingAndGlyphs">(FCC</tspan> <tspan x="787.89" textLength="44.45" lengthAdjust="spacingAndGlyphs">Al)</tspan></text>
</g>
</svg>
</body></html>
